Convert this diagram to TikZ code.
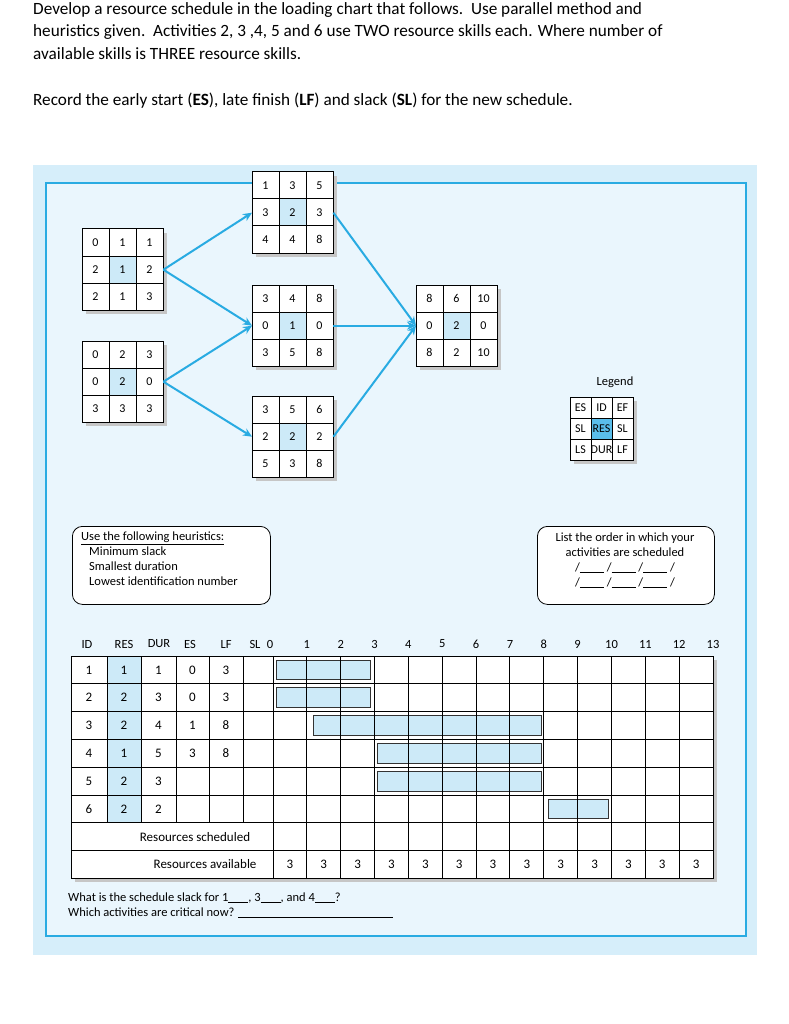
\documentclass[tikz,border=0pt]{standalone}
\usepackage{fontspec}
\setmainfont{Carlito}
\usetikzlibrary{arrows.meta}
\definecolor{arrblue}{RGB}{41,171,226}
\definecolor{cellblue}{RGB}{205,234,248}
\definecolor{resblue}{RGB}{90,190,235}
\definecolor{panel}{RGB}{234,246,253}
\definecolor{outerp}{RGB}{214,238,250}
\tikzset{arr/.style={draw=arrblue,line width=2pt,-{Stealth[length=9pt,width=8pt]}},
 rbox/.style={draw,rounded corners=10pt,line width=0.8pt,fill=white,inner sep=0},
 tline/.style={line width=1pt}}
\newcommand\blank{\rule[-1pt]{24pt}{0.6pt}}
\newcommand\actbox[8]{%
 \fill[gray!45] ({#2+4},{#3+4}) rectangle ++({3*#4},{3*#4});
 \node[inner sep=0,minimum size={3*#4},anchor=north west,fill=white] (#1) at (#2,#3) {};
 \fill[#8] ({#2+#4},{#3+#4}) rectangle ++(#4,#4);
 \draw[line width=1pt] (#2,#3) rectangle ++({3*#4},{3*#4});
 \foreach \k in {1,2}{\draw[line width=1pt] ({#2+\k*#4},#3) -- ++(0,{3*#4});
   \draw[line width=1pt] (#2,{#3+\k*#4}) -- ++({3*#4},0);}
 \foreach \v [count=\i] in {#5} \node[font=\fontsize{12}{12}\selectfont] at ({#2+\i*#4-#4/2},{#3+#4/2}) {\v};
 \foreach \v [count=\i] in {#6} \node[font=\fontsize{12}{12}\selectfont] at ({#2+\i*#4-#4/2},{#3+1.5*#4}) {\v};
 \foreach \v [count=\i] in {#7} \node[font=\fontsize{12}{12}\selectfont] at ({#2+\i*#4-#4/2},{#3+2.5*#4}) {\v};
}
\begin{document}
\begin{tikzpicture}[x=1pt,y=-1pt]
\useasboundingbox (0,0) rectangle (788,1024);
\fill[white] (0,0) rectangle (788,1024);
\node[anchor=north west,inner sep=0,align=left,font=\fontsize{17.2}{22.6}\selectfont] (hdr) at (33,2)
 {Develop a resource schedule in the loading chart that follows.\ \ Use parallel method and\\
  heuristics given.\ \ Activities 2, 3 ,4, 5 and 6 use TWO resource skills each. Where number of\\
  available skills is THREE resource skills.};
\node[anchor=north west,inner sep=0,font=\fontsize{17.2}{22.6}\selectfont] (rec) at (33,93)
 {Record the early start (\textbf{ES}), late finish (\textbf{LF}) and slack (\textbf{SL}) for the new schedule.};
\fill[outerp] (33,165) rectangle (757,955);
\fill[panel] (46,183) rectangle (746,936);
\draw[arrblue,line width=1.2pt] (46,183) rectangle (746,936);
% network
\actbox{a1}{82}{229}{27}{0,1,1}{2,1,2}{2,1,3}{cellblue}
\actbox{a2}{82}{341}{27}{0,2,3}{0,2,0}{3,3,3}{cellblue}
\actbox{a3}{252}{172}{27}{1,3,5}{3,2,3}{4,4,8}{cellblue}
\actbox{a4}{252}{285}{27}{3,4,8}{0,1,0}{3,5,8}{cellblue}
\actbox{a5}{252}{396}{27}{3,5,6}{2,2,2}{5,3,8}{cellblue}
\actbox{a6}{416}{285}{27}{8,6,10}{0,2,0}{8,2,10}{cellblue}
\actbox{lg}{570}{397}{21}{ES,ID,EF}{SL,RES,SL}{LS,DUR,LF}{resblue}
\node[font=\fontsize{12.5}{13}\selectfont] (lgt) at (615,382) {Legend};
\draw[arr] (a1.east) -- (a3.west);
\draw[arr] (a1.east) -- (a4.west);
\draw[arr] (a2.east) -- (a4.west);
\draw[arr] (a2.east) -- (a5.west);
\draw[arr] (a3.east) -- (a6.west);
\draw[arr] (a4.east) -- (a6.west);
\draw[arr] (a5.east) -- (a6.west);
% heuristic boxes
\node[rbox,minimum width=198,minimum height=78,anchor=north west] (hb) at (72,526) {};
\node[anchor=north west,inner sep=0,align=left,font=\fontsize{12.5}{15}\selectfont] (ht) at (81,532)
 {\underline{Use the following heuristics:}\\\hspace*{8pt}Minimum slack\\\hspace*{8pt}Smallest duration\\\hspace*{8pt}Lowest identification number};
\node[rbox,minimum width=177,minimum height=78,anchor=north west] (lb) at (537,526) {};
\node[anchor=north,inner sep=0,align=center,font=\fontsize{12.5}{15}\selectfont] (lt) at (625,533)
 {List the order in which your\\activities are scheduled\\/\blank\ /\blank\ /\blank\ /\\/\blank\ /\blank\ /\blank\ /};
% table
\def\cw{33.85}
\def\rh{27.8}
\fill[gray!45] (75,660) rectangle (717,882);
\fill[white] (71,656) rectangle (713,878);
\fill[cellblue] (107,656) rectangle (141,823);
\foreach \t/\x in {ID/87,RES/124,DUR/159,ES/190,LF/226,SL/255}
 \node[font=\fontsize{12.5}{13}\selectfont] at (\x,644) {\t};
\foreach \k in {0,...,13}
 \node[font=\fontsize{12.5}{13}\selectfont] at ({273+\k*\cw+(\k==0?-3:0)},644) {\k};
% bars
\tikzset{bar/.style={fill=cellblue,draw=black!80,line width=0.9pt}}
\draw[bar] (276,{656+4}) rectangle (370,{656+\rh-4});
\draw[bar] (276,{656+\rh+4}) rectangle (370,{656+2*\rh-4});
\draw[bar] (313,{656+2*\rh+4}) rectangle (541,{656+3*\rh-4});
\draw[bar] (377,{656+3*\rh+4}) rectangle (541,{656+4*\rh-4});
\draw[bar] (377,{656+4*\rh+4}) rectangle (541,{656+5*\rh-4});
\draw[bar] (548,{656+5*\rh+4}) rectangle (608,{656+6*\rh-4});
% grid
\draw[tline] (71,656) rectangle (713,878);
\foreach \r in {1,...,7} \draw[tline] (71,{656+\r*\rh}) -- (713,{656+\r*\rh});
\foreach \x in {107,141,176,209,243} \draw[tline] (\x,656) -- (\x,{656+6*\rh});
\foreach \k in {0,...,12} \draw[tline] ({273+\k*\cw},656) -- ({273+\k*\cw},878);
% cells
\foreach \row/\vals in {1/{1,1,1,0,3},2/{2,2,3,0,3},3/{3,2,4,1,8},4/{4,1,5,3,8},5/{5,2,3},6/{6,2,2}}
 \foreach \v [count=\c] in \vals {
  \pgfmathsetmacro\cx{{0,89,124,158.5,192.5,226}[\c]}
  \node[font=\fontsize{13}{13}\selectfont] at (\cx,{656+(\row-0.5)*\rh}) {\v};}
\node[font=\fontsize{13}{13}\selectfont] (rs) at (195,{656+6.5*\rh}) {Resources scheduled};
\node[font=\fontsize{13}{13}\selectfont,anchor=east] (ra) at (260,{656+7.5*\rh}) {Resources available};
\foreach \k in {0,...,12}
 \node[font=\fontsize{13}{13}\selectfont] at ({273+(\k+0.5)*\cw},{656+7.5*\rh}) {3};
\node[anchor=north west,inner sep=0,align=left,font=\fontsize{12.5}{15}\selectfont] (q) at (68,893)
 {What is the schedule slack for 1\rule[-1pt]{20pt}{0.6pt}, 3\rule[-1pt]{20pt}{0.6pt}, and 4\rule[-1pt]{20pt}{0.6pt}?\\
  Which activities are critical now? \rule[-1pt]{155pt}{0.6pt}};
\end{tikzpicture}
\end{document}
